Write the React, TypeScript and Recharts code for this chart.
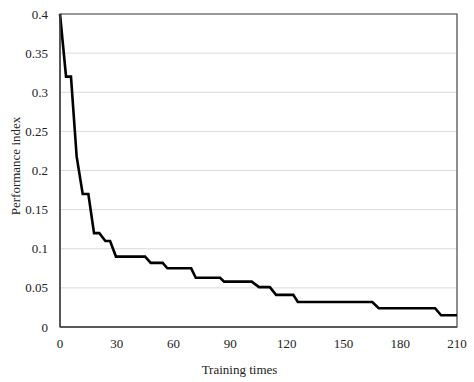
import React from 'react';
import { LineChart, Line, XAxis, YAxis, CartesianGrid, ReferenceArea } from 'recharts';

const trainingTimes = [0, 3.2, 5.8, 8.8, 12, 15, 18, 20.8, 24, 26.5, 29.6, 45, 48, 54.3, 56.8, 69.4, 71.8, 84.7, 86.8, 101.4, 105.3, 111, 114.3, 123.4, 125.8, 165.2, 168.6, 198.4, 201.6, 210];
const performanceIndex = [0.4, 0.32, 0.32, 0.218, 0.17, 0.17, 0.12, 0.12, 0.11, 0.11, 0.09, 0.09, 0.082, 0.082, 0.075, 0.075, 0.063, 0.063, 0.058, 0.058, 0.051, 0.051, 0.041, 0.041, 0.032, 0.032, 0.024, 0.024, 0.015, 0.015];
const xTicks = [0, 30, 60, 90, 120, 150, 180, 210];
const yTicks = [0, 0.05, 0.1, 0.15, 0.2, 0.25, 0.3, 0.35, 0.4];

const data = trainingTimes.map((t, i) => ({ t, p: performanceIndex[i] }));

const font = '"Liberation Serif", "Times New Roman", serif';

const YLabel = () => (
  <text
    x={15}
    y={166}
    transform="rotate(-90 15 166)"
    textAnchor="middle"
    dominantBaseline="central"
    fill="#222"
    fontSize={13}
    fontFamily={font}
  >
    Performance index
  </text>
);

export default function App() {
  return (
    <div style={{ position: 'absolute', left: 0, top: 0, width: 474, height: 382, background: '#fff' }}>
      <LineChart width={474} height={382} data={data} margin={{ top: 14, right: 17, left: 0, bottom: 0 }}>
        <CartesianGrid horizontal={true} vertical={false} stroke="#d9d9d9" strokeWidth={1} />
        <ReferenceArea x1={0} x2={210} y1={0} y2={0.4} fill="none" stroke="#444" strokeWidth={1.2} ifOverflow="visible" />
        <XAxis
          dataKey="t"
          type="number"
          domain={[0, 210]}
          ticks={xTicks}
          tickLine={false}
          axisLine={{ stroke: '#444', strokeWidth: 1.5 }}
          height={55}
          tickMargin={6}
          tick={{ fill: '#222', fontSize: 13, fontFamily: font }}
          label={{ value: 'Training times', position: 'insideBottom', offset: 8, dx: -19, fill: '#222', fontSize: 13, fontFamily: font }}
        />
        <YAxis
          type="number"
          domain={[0, 0.4]}
          ticks={yTicks}
          tickLine={false}
          axisLine={{ stroke: '#444', strokeWidth: 1.5 }}
          width={60}
          tickMargin={6}
          tickFormatter={(v: number) => String(v)}
          tick={{ fill: '#222', fontSize: 13, fontFamily: font }}
          label={{ content: YLabel }}
        />
        <Line dataKey="p" type="linear" stroke="#000" strokeWidth={2.6} dot={false} isAnimationActive={false} />
      </LineChart>
    </div>
  );
}
